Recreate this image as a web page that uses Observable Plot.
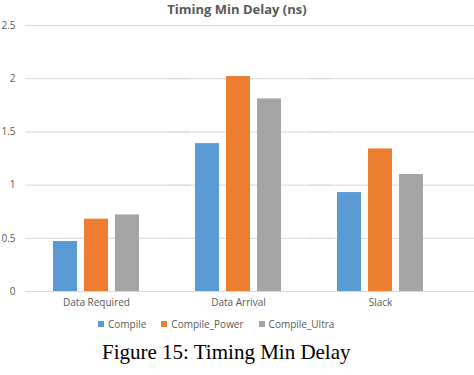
<!DOCTYPE html>
<html>
<head>
<meta charset="utf-8">
<script src="https://cdn.jsdelivr.net/npm/d3@7"></script>
<script src="https://cdn.jsdelivr.net/npm/@observablehq/plot@0.6"></script>
<style>
  html, body { margin: 0; padding: 0; background: #fff; }
  body { position: relative; width: 474px; height: 375px; overflow: hidden; }
  #title { position: absolute; left: 0; top: 0; width: 474px; height: 18px; line-height: 18px;
           text-align: center; font: bold 13px "Open Sans", sans-serif; color: #595959; }
  #chart { position: absolute; left: 0; top: 16px; }
  #legend { position: absolute; left: 98px; top: 316px; height: 16px; line-height: 16px;
            display: flex; align-items: center; font: 10px "Open Sans", sans-serif; color: #595959; }
  #legend .item { display: flex; align-items: center; margin-right: 15px; }
  #legend .sw { width: 6px; height: 6px; margin-right: 4px; }
  #caption { position: absolute; left: 102px; top: 340px; line-height: 21px;
             font: 21px "Liberation Serif", "Times New Roman", serif; color: #000; white-space: nowrap; }
</style>
</head>
<body>
<div id="title">Timing Min Delay (ns)</div>
<div id="chart"></div>
<div id="legend"></div>
<div id="caption">Figure 15: Timing Min Delay</div>
<script>
const categories = ["Data Required", "Data Arrival", "Slack"];
const series = ["Compile", "Compile_Power", "Compile_Ultra"];
const compile = [0.47, 1.39, 0.93];
const compilePower = [0.68, 2.02, 1.34];
const compileUltra = [0.72, 1.81, 1.10];
const yTicks = [0, 0.5, 1, 1.5, 2, 2.5];
const colors = ["#5b9bd5", "#ed7d31", "#a5a5a5"];

const seriesValues = [compile, compilePower, compileUltra];
const data = [];
categories.forEach((c, i) => {
  series.forEach((s, j) => data.push({category: c, series: s, value: seriesValues[j][i]}));
});

const chart = Plot.plot({
  width: 474,
  height: 296,
  marginTop: 9,
  marginBottom: 21,
  marginLeft: 25,
  marginRight: 23,
  style: {fontFamily: "Open Sans", fontSize: "10px", color: "#595959", background: "transparent", overflow: "visible"},
  facet: {data, x: "category"},
  fx: {domain: categories, padding: 0, label: null, tickSize: 0, tickPadding: 7, axis: "bottom"},
  x: {domain: series, paddingInner: 0.21, paddingOuter: 0.88, axis: null},
  y: {domain: [0, 2.5], ticks: yTicks, tickSize: 0, tickPadding: 10, label: null, tickFormat: d => String(d)},
  color: {domain: series, range: colors},
  marks: [
    Plot.ruleY(yTicks, {stroke: "#d9d9d9", strokeOpacity: 1, insetRight: -23}),
    Plot.barY(data, {x: "series", y: "value", fill: "series"})
  ]
});
document.getElementById("chart").appendChild(chart);

const legend = document.getElementById("legend");
series.forEach((s, j) => {
  const item = document.createElement("div");
  item.className = "item";
  const sw = document.createElement("div");
  sw.className = "sw";
  sw.style.background = colors[j];
  const t = document.createElement("span");
  t.textContent = s;
  item.appendChild(sw);
  item.appendChild(t);
  legend.appendChild(item);
});
</script>
</body>
</html>
